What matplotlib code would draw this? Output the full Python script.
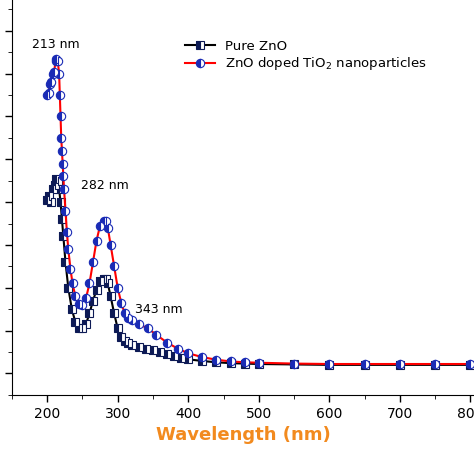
import matplotlib.pyplot as plt

# wavelength (nm) and absorbance (arb. units)
wl_pure = [200, 203, 206, 209, 211, 213, 215, 217, 219, 221, 223, 226, 230, 235, 240, 245, 250, 255,
           260, 265, 270, 275, 280, 283, 286, 290, 295, 300, 305, 310, 315, 320, 330, 340, 350, 360,
           370, 380, 390, 400, 420, 440, 460, 480, 500, 550, 600, 650, 700, 750, 800]
ab_pure = [4.05, 4.15, 4.0, 4.3, 4.4, 4.55, 4.5, 4.3, 4.0, 3.6, 3.2, 2.6, 2.0, 1.5, 1.2, 1.05, 1.05, 1.15,
           1.4, 1.7, 1.95, 2.15, 2.2, 2.2, 2.1, 1.8, 1.4, 1.05, 0.85, 0.75, 0.7, 0.66, 0.62, 0.58, 0.55, 0.5,
           0.45, 0.4, 0.36, 0.33, 0.29, 0.26, 0.24, 0.23, 0.22, 0.21, 0.2, 0.2, 0.2, 0.2, 0.2]
wl_dop = [200, 202, 204, 206, 208, 210, 212, 213, 215, 217, 218, 219, 220, 221, 222, 223, 224, 226,
          228, 230, 233, 236, 240, 245, 250, 255, 260, 265, 270, 275, 280, 283, 286, 290, 295, 300,
          305, 310, 315, 320, 330, 343, 355, 370, 385, 400, 420, 440, 460, 480, 500, 550, 600, 650,
          700, 750, 800]
ab_dop = [6.5, 6.55, 6.75, 6.8, 7.0, 7.05, 7.3, 7.35, 7.3, 7.0, 6.5, 6.0, 5.5, 5.2, 4.9, 4.6, 4.3, 3.8,
          3.3, 2.9, 2.45, 2.1, 1.8, 1.62, 1.6, 1.75, 2.1, 2.6, 3.1, 3.45, 3.56, 3.55, 3.4, 3.0, 2.5, 2.0,
          1.65, 1.4, 1.3, 1.25, 1.15, 1.05, 0.9, 0.72, 0.58, 0.47, 0.38, 0.32, 0.28, 0.26, 0.25, 0.23,
          0.22, 0.22, 0.22, 0.22, 0.22]

fig, ax = plt.subplots(figsize=(4.74, 4.74), dpi=100)
fig.subplots_adjust(left=0.025, right=1.0, bottom=0.167, top=1.0)

ax.plot(wl_pure, ab_pure, '-s', color='black', lw=1.5, ms=6, fillstyle='left',
        markerfacecolor='#0d1a55', markerfacecoloralt='white', markeredgecolor='#0d1a55',
        markeredgewidth=0.8, label='Pure ZnO')
ax.plot(wl_dop, ab_dop, '-o', color='red', lw=1.5, ms=6, fillstyle='left',
        markerfacecolor='#1a2bb5', markerfacecoloralt='white', markeredgecolor='#1a2bb5',
        markeredgewidth=0.8, label='ZnO doped TiO$_2$ nanoparticles')

ax.text(213, 7.6, '213 nm', ha='center', fontsize=9)
ax.text(282, 4.3, '282 nm', ha='center', fontsize=9)
ax.text(358, 1.4, '343 nm', ha='center', fontsize=9)

ax.set_xlim(150, 805)
ax.set_ylim(-0.47, 8.72)
ax.set_xticks([200, 300, 400, 500, 600, 700, 800])
ax.set_xticks(range(150, 801, 50), minor=True)
ax.set_yticks(range(0, 9))
ax.set_yticks([i + 0.5 for i in range(-1, 9)], minor=True)
ax.set_yticklabels([])
ax.tick_params(axis='both', direction='out', length=5, width=1, labelsize=10)
ax.tick_params(which='minor', length=3)
ax.spines['top'].set_visible(False)
ax.spines['right'].set_visible(False)
ax.set_xlabel('Wavelength (nm)', color='#f28a1e', fontsize=13, fontweight='bold')

ax.legend(loc='upper left', bbox_to_anchor=(0.35, 0.93), frameon=False, fontsize=9.5,
          handlelength=2.2, labelspacing=0.2)

fig.savefig('out.png', dpi=100)
